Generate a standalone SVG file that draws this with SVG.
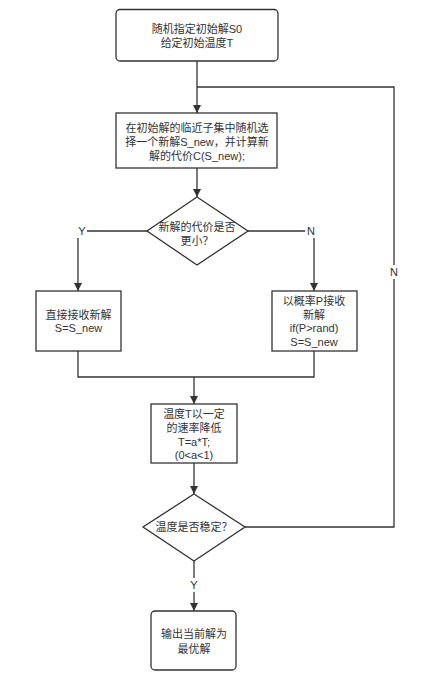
<svg xmlns="http://www.w3.org/2000/svg" width="440" height="675" viewBox="0 0 440 675">
<defs>
<style>
.n{fill:#fff;stroke:#333;stroke-width:1.3}
.t{font-family:"Liberation Sans","Noto Sans CJK SC",sans-serif;font-size:11px;fill:#333;text-anchor:middle;dominant-baseline:central}
.c{fill:none;stroke:#333;stroke-width:1.3}
.lb{fill:#fff}
</style>
<marker id="a" viewBox="0 0 10 10" refX="10" refY="5" markerWidth="8" markerHeight="10" markerUnits="userSpaceOnUse" orient="auto">
<path d="M0,0L10,5L0,10z" fill="#333"/>
</marker>
</defs>
<rect width="440" height="675" fill="#fff"/>
<g id="connectors">
<path class="c" d="M197,61V87"/>
<path class="c" d="M197,87V113" marker-end="url(#a)"/>
<path class="c" d="M197,168V197" marker-end="url(#a)"/>
<path class="c" d="M147,231H78V291" marker-end="url(#a)"/>
<path class="c" d="M248,231H314V291" marker-end="url(#a)"/>
<path class="c" d="M78,351V377H314V351"/>
<path class="c" d="M194,377V404" marker-end="url(#a)"/>
<path class="c" d="M194,463V494" marker-end="url(#a)"/>
<path class="c" d="M245,527H394V87H197"/>
<path class="c" d="M194,561V611" marker-end="url(#a)"/>
<rect class="lb" x="77" y="225" width="10" height="13"/>
<text class="t" x="82" y="231">Y</text>
<rect class="lb" x="305" y="225" width="12" height="13"/>
<text class="t" x="311" y="231">N</text>
<rect class="lb" x="388" y="265" width="12" height="14"/>
<text class="t" x="394" y="272">N</text>
<rect class="lb" x="189" y="578" width="10" height="14"/>
<text class="t" x="194" y="585">Y</text>
</g>
<g id="start">
<rect class="n" x="116" y="9.5" width="162" height="51.5" rx="4"/>
<text class="t" x="197" y="29">随机指定初始解S0</text>
<text class="t" x="197" y="43">给定初始温度T</text>
</g>
<g id="select">
<rect class="n" x="116" y="113" width="161" height="55"/>
<text class="t" x="197" y="128">在初始解的临近子集中随机选</text>
<text class="t" x="197" y="142">择一个新解S_new，并计算新</text>
<text class="t" x="197" y="156">解的代价C(S_new);</text>
</g>
<g id="cmp">
<path class="n" d="M197,197L248,231L197,265L147,231Z"/>
<text class="t" x="197" y="227">新解的代价是否</text>
<text class="t" x="197" y="241">更小？</text>
</g>
<g id="accept">
<rect class="n" x="36" y="291" width="85" height="60"/>
<text class="t" x="78.5" y="315">直接接收新解</text>
<text class="t" x="78.5" y="328">S=S_new</text>
</g>
<g id="prob">
<rect class="n" x="272" y="291" width="85" height="60"/>
<text class="t" x="314" y="301">以概率P接收</text>
<text class="t" x="314" y="315">新解</text>
<text class="t" x="314" y="328">if(P&gt;rand)</text>
<text class="t" x="314" y="342">S=S_new</text>
</g>
<g id="cool">
<rect class="n" x="151" y="404" width="86" height="59"/>
<text class="t" x="194" y="414">温度T以一定</text>
<text class="t" x="194" y="428">的速率降低</text>
<text class="t" x="194" y="442">T=a*T;</text>
<text class="t" x="194" y="455">(0&lt;a&lt;1)</text>
</g>
<g id="stable">
<path class="n" d="M194,494L245,527L194,561L143,527Z"/>
<text class="t" x="194" y="527">温度是否稳定？</text>
</g>
<g id="output">
<rect class="n" x="151" y="611" width="85" height="59" rx="4"/>
<text class="t" x="194" y="634">输出当前解为</text>
<text class="t" x="194" y="649">最优解</text>
</g>
</svg>
